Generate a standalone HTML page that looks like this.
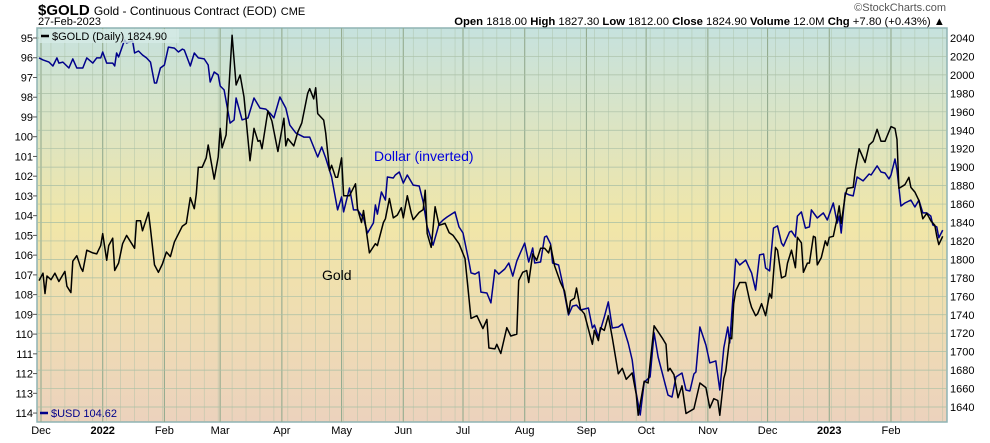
<!DOCTYPE html>
<html><head><meta charset="utf-8"><style>
body{margin:0;background:#fff;width:990px;height:438px;overflow:hidden;font-family:"Liberation Sans",Arial,sans-serif}
svg text{font-family:"Liberation Sans",Arial,sans-serif}
</style></head><body>
<svg id="chart" width="990" height="438" xmlns="http://www.w3.org/2000/svg">
<defs>
<linearGradient id="bg" x1="0" y1="0" x2="0" y2="1">
<stop offset="0" stop-color="#c6e2de"/><stop offset="0.5" stop-color="#f1e6a8"/><stop offset="1" stop-color="#ecd2bd"/>
</linearGradient>
<clipPath id="clip"><rect x="37" y="28" width="910" height="394"/></clipPath>
</defs>
<text x="38" y="15" font-size="15" font-weight="bold">$GOLD <tspan font-size="12" font-weight="normal">Gold - Continuous Contract (EOD)</tspan> <tspan font-size="11" font-weight="normal">CME</tspan></text>
<text x="38" y="25" font-size="11">27-Feb-2023</text>
<text x="946" y="11" font-size="11" fill="#555" text-anchor="end">©StockCharts.com</text>
<text x="945" y="25" font-size="11.3" text-anchor="end"><tspan font-weight="bold">Open</tspan> 1818.00 <tspan font-weight="bold">High</tspan> 1827.30 <tspan font-weight="bold">Low</tspan> 1812.00 <tspan font-weight="bold">Close</tspan> 1824.90 <tspan font-weight="bold">Volume</tspan> 12.0M <tspan font-weight="bold">Chg</tspan> +7.80 (+0.43%) ▲</text>
<rect x="37" y="28" width="910" height="394" fill="url(#bg)" stroke="#8fb3b3" stroke-width="1.5"/>
<g id="grid"></g>
<g id="axes"></g>
<g id="series" clip-path="url(#clip)"></g>
<rect x="39" y="29" width="140" height="14" fill="#d6ebe6" opacity="0.8"/>
<line x1="41" y1="36" x2="49" y2="36" stroke="#000" stroke-width="2.5"/>
<text x="52" y="40" font-size="11">$GOLD (Daily) 1824.90</text>
<line x1="40" y1="413" x2="48" y2="413" stroke="#00008b" stroke-width="2.5"/>
<text x="51" y="417" font-size="11" fill="#00008b">$USD 104.62</text>
<text x="374" y="161" font-size="14" fill="#0000dd">Dollar (inverted)</text>
<text x="322" y="280" font-size="14" fill="#000">Gold</text>
</svg>
<script>
const monthDays=[0,31,62,90,121,151,182,212,243,274,304,335,365,396,427];
const monthLabels=["Dec","2022","Feb","Mar","Apr","May","Jun","Jul","Aug","Sep","Oct","Nov","Dec","2023","Feb"];
const usdTicks=[95,96,97,98,99,100,101,102,103,104,105,106,107,108,109,110,111,112,113,114];
const goldTicks=[1640,1660,1680,1700,1720,1740,1760,1780,1800,1820,1840,1860,1880,1900,1920,1940,1960,1980,2000,2020,2040];
const goldDays=[-1,1,2,3,5,7,9,12,13,15,16,18,20,21,23,26,28,30,31,33,34,36,37,39,41,43,47,48,50,51,54,55,57,59,61,63,65,67,71,73,75,77,78,79,81,83,84,87,89,90,91,93,96,98,100,102,105,107,109,110,111,114,116,119,122,123,124,127,129,131,134,135,137,138,139,142,143,145,146,148,149,151,152,155,158,159,161,162,165,168,169,172,173,175,177,179,181,182,184,186,187,190,192,193,194,196,198,200,203,205,207,210,213,216,219,222,224,225,228,229,231,234,236,239,240,242,244,245,247,249,251,253,255,256,258,261,263,265,266,268,269,271,273,277,278,280,281,283,285,287,290,292,294,297,299,300,303,305,308,312,314,315,316,318,320,322,324,328,331,334,336,338,340,341,343,344,346,347,348,349,351,354,356,357,359,360,362,364,366,367,369,370,372,374,375,377,379,380,382,383,385,386,388,389,390,392,394,395,396,398,400,401,402,404,405,408,409,411,413,414,416,418,420,422,424,427,429,430,431,434,436,437,439,441,443,445,447,449,450,451,453];
const goldValues=[1777,1785,1763,1782,1778,1785,1776,1787,1771,1764,1798,1804,1791,1787,1810,1807,1806,1815,1828,1799,1815,1823,1788,1796,1817,1826,1812,1842,1842,1831,1851,1833,1794,1786,1795,1808,1803,1819,1836,1839,1867,1855,1871,1900,1900,1910,1924,1887,1911,1942,1921,1935,2043,1989,2000,1976,1907,1942,1928,1929,1920,1961,1950,1917,1953,1923,1931,1923,1938,1948,1980,1985,1974,1986,1958,1951,1937,1896,1902,1889,1889,1910,1869,1869,1882,1855,1840,1853,1807,1817,1815,1840,1844,1866,1845,1848,1856,1845,1869,1850,1843,1851,1854,1875,1828,1813,1857,1837,1839,1829,1826,1817,1801,1736,1739,1725,1735,1704,1703,1708,1698,1726,1717,1719,1777,1786,1788,1775,1806,1799,1812,1812,1807,1815,1793,1775,1766,1741,1755,1758,1769,1746,1741,1708,1723,1712,1726,1723,1739,1715,1676,1682,1670,1677,1654,1631,1668,1666,1728,1715,1708,1679,1682,1675,1650,1663,1633,1638,1666,1661,1639,1649,1647,1631,1671,1679,1715,1714,1752,1766,1775,1775,1755,1748,1739,1741,1752,1739,1763,1758,1813,1810,1780,1782,1796,1810,1791,1824,1818,1786,1796,1796,1825,1824,1794,1802,1820,1815,1824,1825,1845,1858,1839,1869,1877,1878,1896,1920,1910,1905,1924,1928,1941,1928,1928,1944,1942,1930,1877,1881,1889,1878,1873,1864,1844,1850,1842,1837,1825,1816,1825];
const usdDays=[-1,1,4,6,8,9,11,14,16,18,21,23,26,28,30,31,33,36,37,38,39,42,43,46,47,49,51,53,55,57,58,60,62,64,67,69,71,72,75,77,79,82,84,85,87,89,90,92,95,97,98,101,104,107,110,113,115,117,120,123,125,128,132,135,139,141,143,146,149,151,152,155,157,159,162,164,167,168,169,171,173,174,177,178,180,182,184,187,190,192,194,197,200,202,204,208,210,212,215,216,218,220,221,224,226,228,230,233,235,237,239,241,243,245,247,248,251,253,254,256,257,260,262,265,267,269,271,275,277,278,280,283,285,287,290,292,295,297,299,301,303,306,308,310,313,315,317,319,322,324,326,328,329,331,334,336,339,341,343,345,346,349,351,354,356,357,359,361,363,364,366,368,370,372,373,376,377,379,380,382,384,386,387,390,393,395,398,400,401,402,404,406,408,410,413,416,417,420,422,424,426,427,429,430,432,434,437,439,441,443,445,447,448,450,451,453];
const usdValues=[96.01,96.11,96.22,96.42,96.01,96.27,96.22,96.52,96.06,96.52,96.52,96.01,96.27,96.01,96.01,95.71,96.27,96.27,96.42,95.76,95.96,95.10,95.25,95.15,95.76,95.66,95.86,96.01,96.22,97.28,97.28,96.52,96.37,95.46,95.51,95.71,95.56,95.61,96.42,95.76,96.01,96.06,96.37,97.23,96.72,96.87,97.43,97.63,99.31,99.15,98.04,99.15,99.05,98.04,98.55,98.60,98.80,99.05,97.99,98.55,99.41,99.81,100.02,100.02,101.03,100.52,101.08,102.04,103.71,103.05,103.81,102.60,103.71,103.71,104.12,104.88,104.37,103.46,103.92,102.80,103.21,102.04,102.09,101.94,101.79,102.35,101.94,102.45,102.50,103.31,104.57,105.49,104.42,104.22,104.07,103.81,104.57,104.88,106.35,106.90,106.96,106.85,107.87,107.92,108.42,106.75,106.96,106.70,106.40,107.06,106.30,105.84,105.39,106.35,105.64,106.40,106.35,105.08,105.03,105.44,106.40,106.50,107.41,109.03,108.58,108.53,108.78,108.68,109.69,109.54,110.15,109.13,108.37,109.69,109.64,109.49,110.45,111.31,112.98,114.10,112.43,112.17,109.94,111.16,112.33,113.09,113.19,112.17,111.97,112.83,112.88,112.02,111.92,109.64,110.55,111.46,111.36,112.83,110.70,109.64,110.45,106.20,106.50,106.25,106.70,106.90,107.77,105.99,105.94,106.65,106.80,104.63,104.52,105.39,105.54,104.83,104.78,105.08,104.02,103.81,104.63,104.57,103.71,104.12,103.86,104.22,103.36,104.37,104.02,104.88,102.85,102.95,103.00,102.04,102.24,101.89,101.94,101.48,101.79,101.84,102.14,101.94,101.13,101.69,103.51,103.36,103.21,103.56,103.21,103.86,103.86,104.02,104.47,104.57,105.12,104.73];

const NS="http://www.w3.org/2000/svg";
const X0=37,X1=947,Y0=28,Y1=422;
const xScale=d=>41+d*1.9906;
const yUsd=v=>38+(v-95)*19.74;
const yGold=v=>38+(2040-v)*0.9225;
function mk(tag,attrs,parent){const e=document.createElementNS(NS,tag);for(const k in attrs)e.setAttribute(k,attrs[k]);parent.appendChild(e);return e;}
const grid=document.getElementById('grid'),axes=document.getElementById('axes'),series=document.getElementById('series');
for(let d=5;d<460;d+=7){const x=xScale(d);if(x<=X0||x>=X1)continue;const l=mk('line',{x1:x,x2:x,y1:Y0,y2:Y1,stroke:'#a9bfa5','stroke-width':0.6,opacity:0.7},grid);}
monthDays.forEach((d,i)=>{const x=xScale(d);
const l=mk('line',{x1:x,x2:x,y1:Y0,y2:Y1,stroke:'#94ab8f','stroke-width':1.1},grid);

const t=mk('text',{x:x,y:434,'font-size':11,'text-anchor':'middle','font-weight':(monthLabels[i].length===4?'bold':'normal')},axes);
t.textContent=monthLabels[i];
});
goldTicks.forEach(v=>{const y=yGold(v);
const l=mk('line',{x1:X0,x2:X1,y1:y,y2:y,stroke:'#a9bfa5','stroke-width':0.7},grid);

const t=mk('text',{x:950,y:y+4,'font-size':11},axes);t.textContent=v;
});
usdTicks.forEach(v=>{const y=yUsd(v);
mk('line',{x1:33,x2:37,y1:y,y2:y,stroke:'#555'},axes);
const t=mk('text',{x:33,y:y+4,'font-size':11,'text-anchor':'end'},axes);t.textContent=v;
});
function line(days,vals,ys){return days.map((d,i)=>xScale(d).toFixed(1)+','+ys(vals[i]).toFixed(1)).join(' ');}
const pu=mk('polyline',{points:line(usdDays,usdValues,yUsd),fill:'none',stroke:'#00008b','stroke-width':1.5,'stroke-linejoin':'round'},series);

const pg=mk('polyline',{points:line(goldDays,goldValues,yGold),fill:'none',stroke:'#000','stroke-width':1.5,'stroke-linejoin':'round'},series);

</script>
</body></html>
